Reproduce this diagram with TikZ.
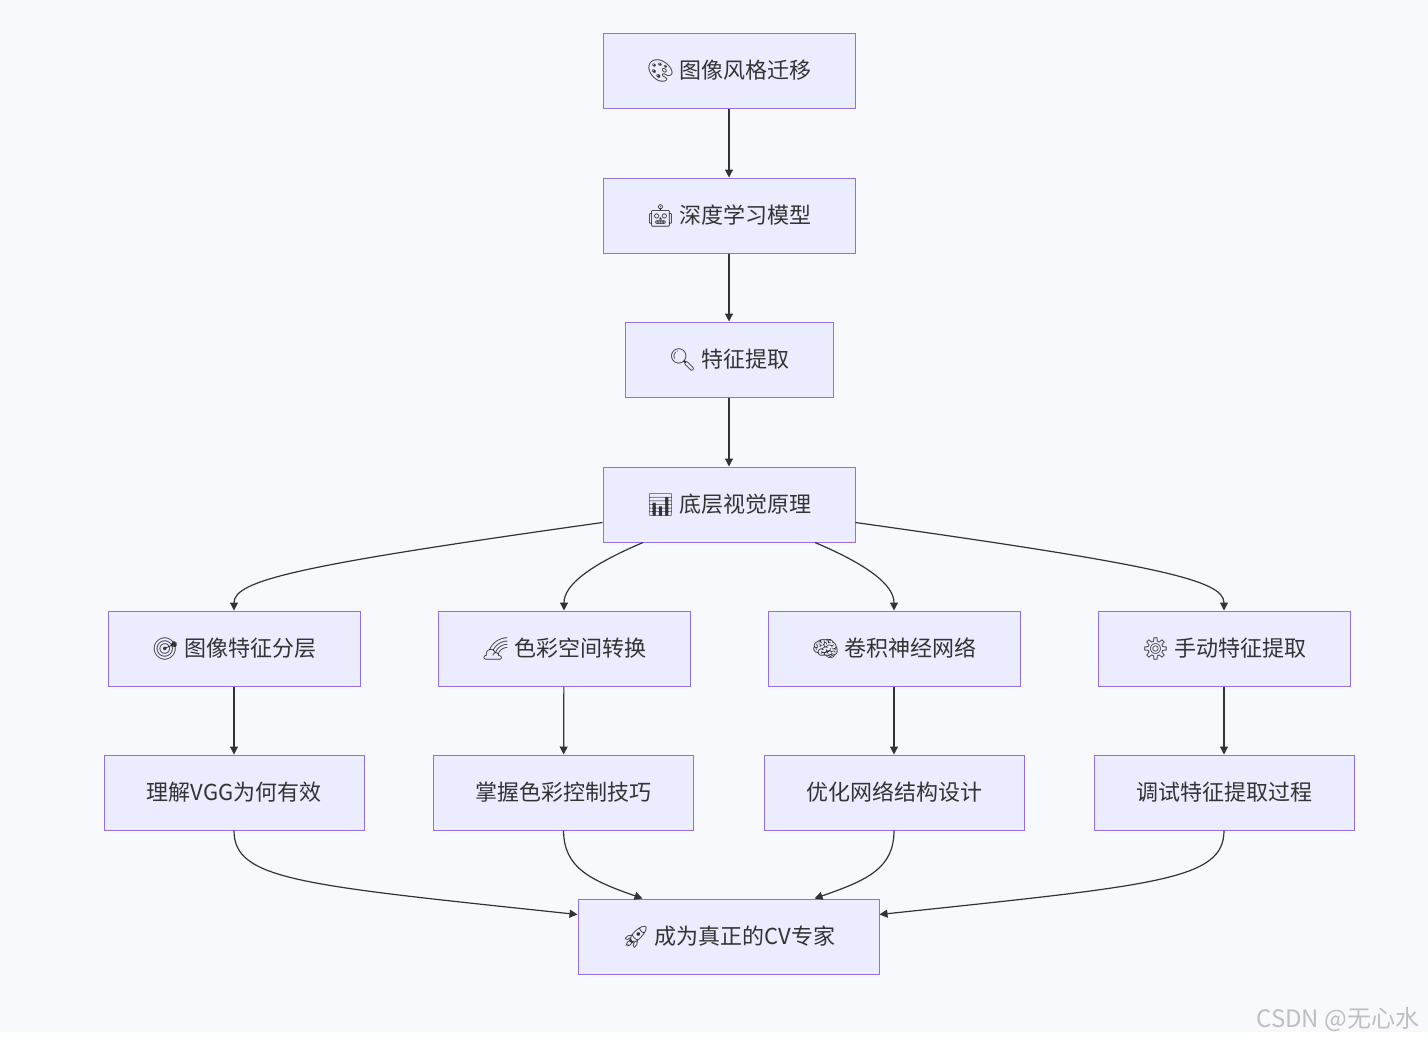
\documentclass[tikz,border=0pt]{standalone}
\usepackage{fontspec}
\setmainfont{Noto Sans CJK SC}
\newfontfamily\emo{Noto Emoji}
\usetikzlibrary{arrows.meta,calc}
\definecolor{bg}{HTML}{F8F9FC}
\definecolor{nf}{HTML}{ECECFF}
\definecolor{nb}{HTML}{9370DB}
\definecolor{ln}{HTML}{333333}
\tikzset{box/.style={draw=nb,fill=nf,line width=0.75pt,minimum height=56.25pt,font=\fontsize{16.5}{18}\selectfont,text=ln,inner sep=0pt},
edge/.style={draw=ln,line width=0.9pt,-{Triangle[length=6pt,width=6pt]}}}
\begin{document}
\begin{tikzpicture}[x=0.75pt,y=-0.75pt]
\fill[bg] (0,0) rectangle (1428,1032);
\fill[white] (0,1032) rectangle (1428,1046);
\useasboundingbox (0,0) rectangle (1428,1046);
\node[box,minimum width=189pt] (A) at (729,71) {{\emo 🎨} 图像风格迁移};
\node[box,minimum width=189pt] (B) at (729,215.5) {{\emo 🤖} 深度学习模型};
\node[box,minimum width=156pt] (C) at (729,359.5) {{\emo 🔍} 特征提取};
\node[box,minimum width=189pt] (D) at (729,504.5) {{\emo 📊} 底层视觉原理};
\node[box,minimum width=189pt] (E1) at (234,648.5) {{\emo 🎯} 图像特征分层};
\node[box,minimum width=189pt] (E2) at (564,648.5) {{\emo 🌈} 色彩空间转换};
\node[box,minimum width=189pt] (E3) at (894,648.5) {{\emo 🧠} 卷积神经网络};
\node[box,minimum width=189pt] (E4) at (1224,648.5) {{\emo ⚙} 手动特征提取};
\node[box,minimum width=195pt] (F1) at (234,792.5) {理解VGG为何有效};
\node[box,minimum width=195pt] (F2) at (563.5,792.5) {掌握色彩控制技巧};
\node[box,minimum width=195pt] (F3) at (894,792.5) {优化网络结构设计};
\node[box,minimum width=195pt] (F4) at (1224,792.5) {调试特征提取过程};
\node[box,minimum width=225.75pt] (G) at (728.5,936.5) {{\emo 🚀} 成为真正的CV专家};
\draw[edge] (A) -- (B);
\draw[edge] (B) -- (C);
\draw[edge] (C) -- (D);
\draw[edge] ($(D.west)+(0,18)$) .. controls (300,565) and (234,580) .. (E1.north);
\draw[edge] ($(D.south)+(-86,0)$) .. controls (590,565) and (564,585) .. (E2.north);
\draw[edge] ($(D.south)+(86,0)$) .. controls (868,565) and (894,585) .. (E3.north);
\draw[edge] ($(D.east)+(0,18)$) .. controls (1158,565) and (1224,580) .. (E4.north);
\foreach \i in {1,2,3,4} \draw[edge] (E\i) -- (F\i);
\draw[edge] (F1.south) .. controls (234,880) and (300,885) .. ($(G.west)+(0,-22)$);
\draw[edge] (F2.south) .. controls (564,868) and (590,880) .. ($(G.north)+(-86,0)$);
\draw[edge] (F3.south) .. controls (894,868) and (868,880) .. ($(G.north)+(86,0)$);
\draw[edge] (F4.south) .. controls (1224,880) and (1158,885) .. ($(G.east)+(0,-22)$);
\node[text=gray!50,font=\fontsize{18}{20}\selectfont,anchor=east] (W) at (1424,1020) {CSDN @无心水};
\end{tikzpicture}
\end{document}
